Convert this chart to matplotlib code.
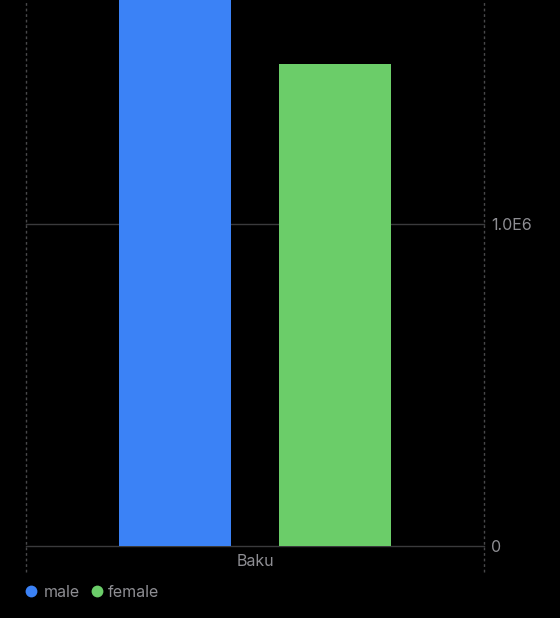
import matplotlib
matplotlib.use("Agg")
import matplotlib.pyplot as plt
from matplotlib.lines import Line2D
import numpy as np

categories = ["Baku"]
series_names = ["male", "female"]
male = [1.80e6]
female = [1.497e6]
y_ticks = [0, 1.0e6]
y_tick_labels = ["0", "1.0E6"]

colors = ["#3b82f6", "#6bcd69"]
grid_color = "#3a3a3c"
text_color = "#8e8e93"

plt.rcParams['font.family'] = ['Inter', 'DejaVu Sans']

W, H = 560, 618
fig = plt.figure(figsize=(W / 100, H / 100), dpi=100, facecolor="black")
ax = fig.add_axes([26 / W, (H - 546) / H, (484 - 26) / W, 546 / H])
ax.set_facecolor("black")

x = np.arange(len(categories))
bw = 0.2445
off = 0.1747
for i, (name, vals) in enumerate(zip(series_names, [male, female])):
    ax.bar(x + (i - 0.5) * 2 * off, vals, width=bw, color=colors[i], zorder=3, label=name)

ax.set_xlim(-0.5, 0.5)
ax.set_ylim(0, 546 / 322 * 1e6)

for t in y_ticks:
    ax.axhline(t, color=grid_color, lw=1, zorder=1, clip_on=False)

for sp in ax.spines.values():
    sp.set_visible(False)

# dashed vertical boundary lines extending below baseline
for xa in (0, 1):
    ax.plot([xa, xa], [-26 / 546, 1], transform=ax.transAxes, clip_on=False,
            color="#48484a", lw=1, ls=(0, (2, 2)), zorder=1)

ax.yaxis.tick_right()
ax.set_yticks(y_ticks)
ax.set_yticklabels(y_tick_labels)
ax.tick_params(axis="y", length=0, pad=5, labelcolor=text_color, labelsize=11.5)
ax.set_xticks(x)
ax.set_xticklabels(categories)
ax.tick_params(axis="x", length=0, pad=6, labelcolor=text_color, labelsize=11.5)

# legend (manual layout)
legend_y = 1 - 591 / H
marker_x = [31 / W, 97 / W]
text_x = [44 / W, 108 / W]
for c, name, mx, tx in zip(colors, series_names, marker_x, text_x):
    fig.add_artist(Line2D([mx], [legend_y], marker="o", ls="", markersize=8.5,
                          markerfacecolor=c, markeredgewidth=0,
                          transform=fig.transFigure))
    fig.text(tx, legend_y, name, color=text_color, fontsize=11.5,
             va="center_baseline", ha="left")

fig.savefig("out.png", dpi=100, facecolor="black")
